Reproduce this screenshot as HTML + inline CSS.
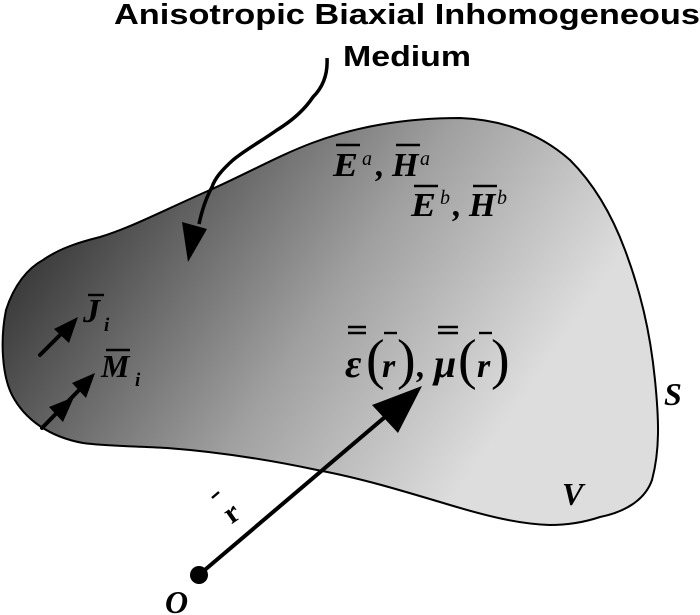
<!DOCTYPE html>
<html><head><meta charset="utf-8"><style>html,body{margin:0;padding:0;background:#fff}svg{display:block}</style></head><body>
<svg width="700" height="615" viewBox="0 0 700 615" xmlns="http://www.w3.org/2000/svg">
<defs>
<linearGradient id="g" x1="90" y1="190" x2="480" y2="460" gradientUnits="userSpaceOnUse">
<stop offset="0" stop-color="#3e3e3e"/>
<stop offset="0.55" stop-color="#a0a0a0"/>
<stop offset="1" stop-color="#dddddd"/>
</linearGradient>
</defs>
<path d="M83,443 C50,437 25,420 12,395 C2,375 0,340 6,310 C14,285 28,268 43,260 C60,248 80,242 100,237 C130,228 160,212 210,190 C250,172 280,155 312,143 C360,125 410,118 460,118 C510,120 545,138 570,160 C595,185 612,215 625,250 C640,290 650,330 655,380 C659,420 660,450 652,480 C645,500 625,512 600,517 C585,522 570,525 550,525 C520,524 490,517 450,505 C400,490 360,478 317,470 C270,460 220,452 167,448 C130,446 105,446 83,443 Z" fill="url(#g)" stroke="#000" stroke-width="2"/>
<g font-family="Liberation Sans, sans-serif" font-weight="bold" fill="#000">
<text x="114" y="24" font-size="29" textLength="586" lengthAdjust="spacingAndGlyphs">Anisotropic Biaxial Inhomogeneous</text>
<text x="343" y="66" font-size="29" textLength="128" lengthAdjust="spacingAndGlyphs">Medium</text>
</g>
<path d="M327,58 C328,75 322,88 313,97 C303,112 290,122 277,130 C260,142 245,150 233,160 C222,170 215,178 212,187 C206,198 202,210 199,224" fill="none" stroke="#000" stroke-width="3.5"/>
<polygon points="182,222 207,229 188,262" fill="#000"/>
<g font-family="Liberation Serif, serif" font-weight="bold" font-style="italic" fill="#000">
<text x="333" y="176" font-size="34" textLength="25" lengthAdjust="spacingAndGlyphs">E</text><text x="362" y="165" font-size="20" font-weight="normal">a</text>
<text x="376" y="176" font-size="34">,</text>
<text x="392" y="176" font-size="34">H</text><text x="420" y="165" font-size="20" font-weight="normal">a</text>
<text x="411" y="216" font-size="34" textLength="25" lengthAdjust="spacingAndGlyphs">E</text><text x="440" y="204" font-size="20" font-weight="normal">b</text>
<text x="453" y="216" font-size="34">,</text>
<text x="469" y="216" font-size="34">H</text><text x="497" y="204" font-size="20" font-weight="normal">b</text>
<text x="83" y="322" font-size="34">J</text><text x="104" y="331" font-size="19">i</text>
<text x="101" y="377" font-size="32">M</text><text x="135" y="386" font-size="19">i</text>
<text x="345" y="377" font-size="40">ε</text>
<text x="366" y="378" font-size="56" font-weight="normal" font-style="normal">(</text>
<text x="382" y="377" font-size="34">r</text>
<text x="397" y="378" font-size="56" font-weight="normal" font-style="normal">)</text>
<text x="417" y="377" font-size="34">,</text>
<text x="434" y="377" font-size="40">μ</text>
<text x="458" y="378" font-size="56" font-weight="normal" font-style="normal">(</text>
<text x="477" y="377" font-size="34">r</text>
<text x="491" y="378" font-size="56" font-weight="normal" font-style="normal">)</text>
<text x="664" y="405" font-size="32">S</text>
<text x="562" y="505" font-size="32">V</text>
<text x="165" y="613" font-size="32">O</text>
<text x="224" y="523" font-size="30" font-style="normal" transform="rotate(-35 230 512)">r</text>
</g>
<g stroke="#000" stroke-width="2.4">
<line x1="336" y1="145" x2="360" y2="145"/><line x1="396" y1="145" x2="420" y2="145"/>
<line x1="414" y1="186" x2="438" y2="186"/><line x1="473" y1="186" x2="497" y2="186"/>
<line x1="88" y1="295" x2="104" y2="295"/><line x1="106" y1="350" x2="130" y2="350"/>
<line x1="348" y1="327" x2="366" y2="327"/><line x1="348" y1="333" x2="366" y2="333"/>
<line x1="438" y1="327" x2="458" y2="327"/><line x1="438" y1="333" x2="458" y2="333"/>
<line x1="384" y1="333" x2="397" y2="333"/><line x1="479" y1="333" x2="492" y2="333"/>
<line x1="212" y1="498" x2="219" y2="492"/>
</g>
<g stroke="#000" stroke-width="4" stroke-linecap="round">
<line x1="40" y1="355" x2="66" y2="329"/>
<line x1="42" y1="428" x2="84" y2="385"/>
<line x1="200" y1="574" x2="385" y2="417"/>
</g>
<polygon points="78,317 54,329 69,343" fill="#000"/>
<polygon points="95,373 72,383 86,398" fill="#000"/>
<polygon points="74,397 49,407 63,422" fill="#000"/>
<polygon points="422,386 372,405 398,433" fill="#000"/>
<circle cx="199" cy="575" r="9" fill="#000"/>
</svg>
</body></html>
